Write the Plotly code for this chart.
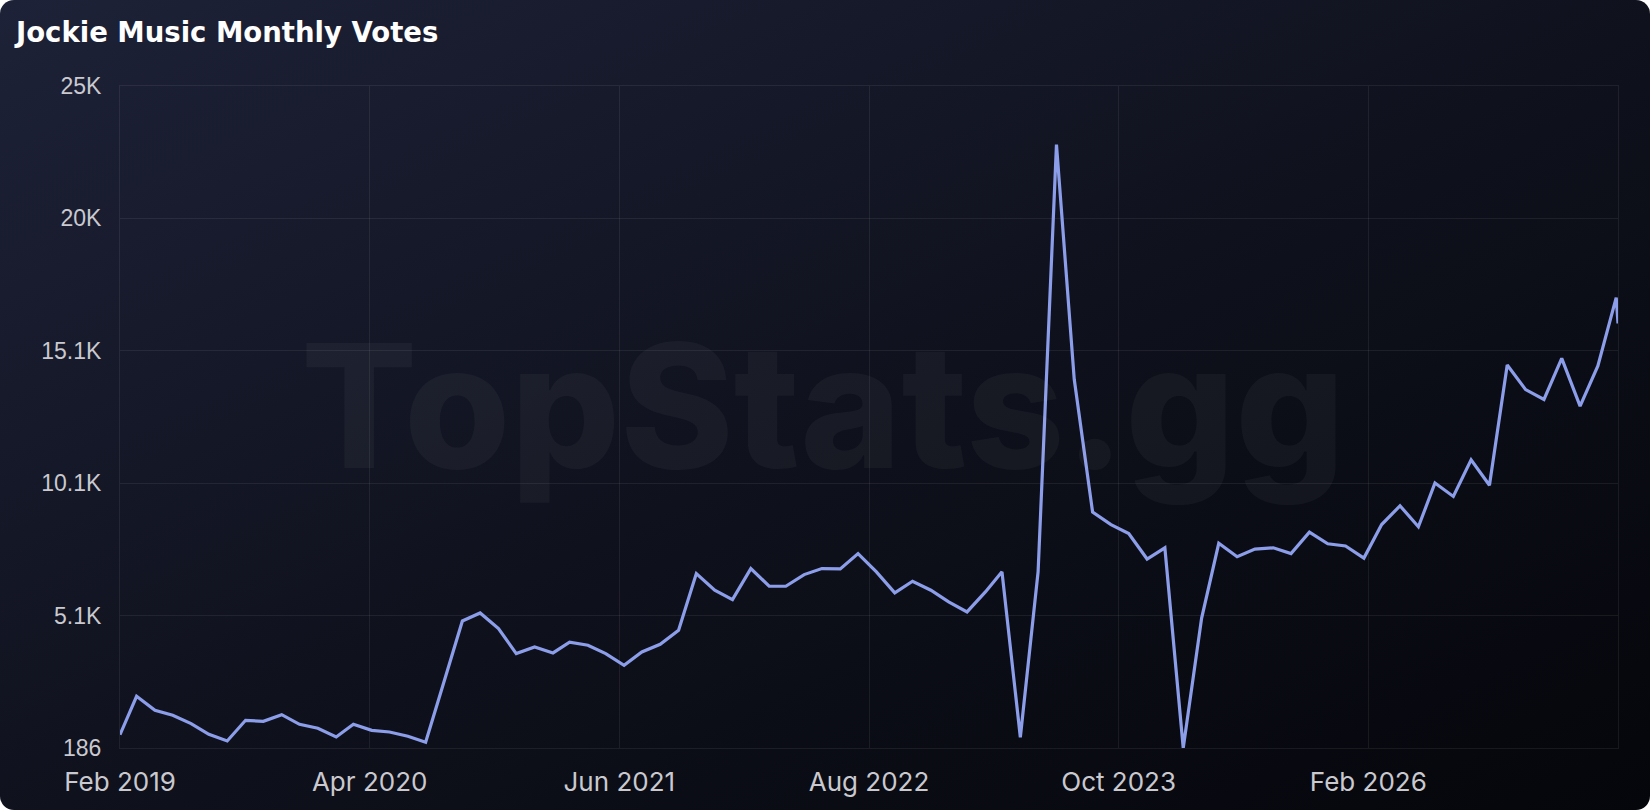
import base64
import pandas as pd
import plotly.graph_objects as go

# ---- data ----
months = list(pd.date_range("2019-02-01", periods=84, freq="MS").strftime("%Y-%m-%d")) + ["2026-01-04"]
votes = [
    686, 2124, 1599, 1411, 1099, 699, 449, 1224, 1186, 1436,
    1074, 924, 599, 1074, 849, 786, 624, 399, 2670, 4949,
    5249, 4661, 3724, 3974, 3749, 4149, 4036, 3724, 3286, 3786,
    4074, 4599, 6724, 6099, 5749, 6911, 6249, 6249, 6686, 6911,
    6899, 7474, 6786, 5999, 6436, 6099, 5661, 5286, 6036, 6790,
    590, 6800, 22800, 14005, 9030, 8561, 8226, 7271, 7690, 186,
    5044, 7858, 7355, 7640, 7690, 7472, 8276, 7841, 7757, 7305,
    8561, 9265, 8477, 10119, 9616, 10990, 10035, 14541, 13620, 13251,
    14792, 13000, 14507, 17070, 16098,
]
x_tick_text = ["Feb 2019", "Apr 2020", "Jun 2021", "Aug 2022", "Oct 2023", "Feb 2026"]
y_tick_vals = [186, 5149, 10112, 15075, 20037, 25000]
y_tick_text = ["186", "5.1K", "10.1K", "15.1K", "20K", "25K"]
title_text = "Jockie Music Monthly Votes"
watermark = "TopStats.gg"

# ---- layout constants ----
W, H = 1650, 810
ML, MR, MT, MB = 120, 32, 86, 62
PW, PH = W - ML - MR, H - MT - MB

x_tick_vals = list(pd.date_range(months[0], months[-1], periods=7)[:6])

svg = (
    f'<svg xmlns="http://www.w3.org/2000/svg" width="{W}" height="{H}">'
    '<defs><linearGradient id="g" x1="0" y1="0" x2="1" y2="1">'
    '<stop offset="0" stop-color="#1e2238"/>'
    '<stop offset="0.55" stop-color="#0e101b"/>'
    '<stop offset="1" stop-color="#05060b"/>'
    '</linearGradient></defs>'
    f'<rect width="{W}" height="{H}" rx="14" ry="14" fill="url(#g)"/></svg>'
)
src = "data:image/svg+xml;base64," + base64.b64encode(svg.encode()).decode()

grid = "rgba(255,255,255,0.07)"

fig = go.Figure()
fig.add_trace(go.Scatter(
    x=months, y=votes, mode="lines",
    line=dict(color="#8c9eea", width=3.2),
    hoverinfo="skip",
))

fig.update_layout(
    width=W, height=H,
    margin=dict(l=ML, r=MR, t=MT, b=MB),
    paper_bgcolor="#ffffff",
    plot_bgcolor="rgba(0,0,0,0)",
    showlegend=False,
    title=dict(
        text=title_text, x=16 / W, xanchor="left", xref="container",
        y=1 - 32 / H, yanchor="middle", yref="container",
        font=dict(family="DejaVu Sans", size=27.5, color="#ffffff", weight=700),
    ),
    images=[dict(
        source=src, xref="paper", yref="paper",
        x=-ML / PW, y=1 + MT / PH, sizex=W / PW, sizey=H / PH,
        xanchor="left", yanchor="top", sizing="stretch", layer="below",
    )],
    annotations=[dict(
        text=watermark, xref="paper", yref="paper",
        x=(823 - ML) / PW, y=(748 - 405) / PH, xanchor="center", yanchor="middle",
        showarrow=False,
        font=dict(family="Inter", size=172, color="rgba(255,255,255,0.04)", weight=800),
    )],
    xaxis=dict(
        type="date",
        range=[months[0], months[-1]],
        tickvals=x_tick_vals, ticktext=x_tick_text,
        showgrid=True, gridcolor=grid, gridwidth=1,
        showline=True, linecolor=grid, mirror=True,
        zeroline=False, ticks="",
        tickfont=dict(family="Inter", size=26, color="#c9c9cf"),
        ticklabelstandoff=11,
    ),
    yaxis=dict(
        range=[186, 25000],
        tickvals=y_tick_vals, ticktext=y_tick_text,
        showgrid=True, gridcolor=grid, gridwidth=1,
        showline=True, linecolor=grid, mirror=True,
        zeroline=False, ticks="",
        tickfont=dict(family="Liberation Sans", size=23, color="#c9c9cf"),
        ticklabelstandoff=13,
    ),
)

fig.write_html(
    "out.html",
    config={"displayModeBar": False, "staticPlot": True},
    post_script="document.body.style.margin='0px';document.body.style.overflow='hidden';",
)
